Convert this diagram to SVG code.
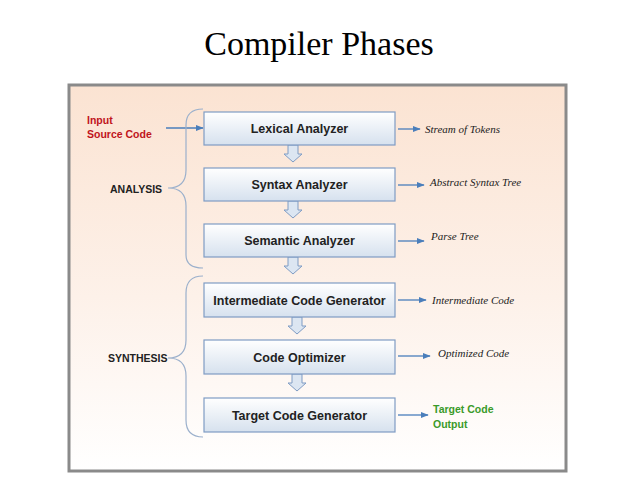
<svg xmlns="http://www.w3.org/2000/svg" width="638" height="478" viewBox="0 0 638 478">
<defs>
<linearGradient id="bg" x1="0" y1="0" x2="0" y2="1"><stop offset="0" stop-color="#fbe3d2"/><stop offset="0.55" stop-color="#fdf1e9"/><stop offset="1" stop-color="#ffffff"/></linearGradient>
<linearGradient id="bx" x1="0" y1="0" x2="0" y2="1"><stop offset="0" stop-color="#ffffff"/><stop offset="1" stop-color="#d6e1ee"/></linearGradient>
<marker id="ah" viewBox="0 0 10 10" refX="9" refY="5" markerWidth="6" markerHeight="6" orient="auto"><path d="M0,1 L10,5 L0,9 Z" fill="#4a7ebb"/></marker>
<path id="blk" d="M-5,0 H5 V9 H9 L0,17 L-9,9 H-5 Z" fill="#dce6f2" stroke="#7f9cc4" stroke-width="1"/>
</defs>
<style>
.box{fill:url(#bx);stroke:#7f9cc4;stroke-width:1.2}
.bt{font-family:"Liberation Sans",Arial,sans-serif;font-weight:bold;font-size:12.5px;fill:#222;text-anchor:middle}
.it{font-family:"Liberation Serif","Times New Roman",serif;font-style:italic;font-size:11px;fill:#222}
.lbl{font-family:"Liberation Sans",Arial,sans-serif;font-weight:bold;font-size:10.5px}
.ar{stroke:#4a7ebb;stroke-width:1.3;fill:none;marker-end:url(#ah)}
.br{stroke:#9bb0cc;stroke-width:1.2;fill:none}
</style>
<rect width="638" height="478" fill="#fff"/>
<text x="319" y="55" font-family="Liberation Serif,'Times New Roman',serif" font-size="34" text-anchor="middle" fill="#000">Compiler Phases</text>
<rect x="69" y="85" width="497" height="386" fill="url(#bg)" stroke="#8a8a8a" stroke-width="3"/>
<g id="connectors">
<use href="#blk" x="293" y="145"/>
<use href="#blk" x="293" y="201"/>
<use href="#blk" x="293" y="257"/>
<use href="#blk" x="297" y="317"/>
<use href="#blk" x="297" y="374"/>
<line class="ar" x1="166" y1="128" x2="203" y2="128"/>
<line class="ar" x1="398" y1="129" x2="420" y2="129"/>
<line class="ar" x1="398" y1="185" x2="424" y2="185"/>
<line class="ar" x1="398" y1="241" x2="424" y2="241"/>
<line class="ar" x1="398" y1="300" x2="426" y2="300"/>
<line class="ar" x1="398" y1="356" x2="430" y2="356"/>
<line class="ar" x1="398" y1="415" x2="428" y2="415"/>
<path class="br" d="M203,109 Q186,109 186,125 V170 Q186,188 168,188 Q186,188 186,206 V255 Q186,268 203,268"/>
<path class="br" d="M203,276 Q186,276 186,293 V340 Q186,358 168,358 Q186,358 186,376 V420 Q186,437 203,437"/>
</g>
<g id="n1"><rect class="box" x="204" y="112" width="191" height="33"/><text class="bt" x="299.5" y="133">Lexical Analyzer</text></g>
<g id="n2"><rect class="box" x="204" y="168" width="191" height="33"/><text class="bt" x="299.5" y="189">Syntax Analyzer</text></g>
<g id="n3"><rect class="box" x="204" y="224" width="191" height="33"/><text class="bt" x="299.5" y="245">Semantic Analyzer</text></g>
<g id="n4"><rect class="box" x="204" y="283" width="191" height="34"/><text class="bt" x="299.5" y="305">Intermediate Code Generator</text></g>
<g id="n5"><rect class="box" x="204" y="340" width="191" height="34"/><text class="bt" x="299.5" y="362">Code Optimizer</text></g>
<g id="n6"><rect class="box" x="204" y="398" width="191" height="34"/><text class="bt" x="299.5" y="420">Target Code Generator</text></g>
<g id="labels">
<text class="lbl" x="87" y="124" fill="#c0141c">Input</text>
<text class="lbl" x="87" y="138" fill="#c0141c">Source Code</text>
<text class="lbl" x="110" y="193" fill="#222">ANALYSIS</text>
<text class="lbl" x="108" y="362" fill="#222">SYNTHESIS</text>
<text class="it" x="425" y="133">Stream of Tokens</text>
<text class="it" x="430" y="186">Abstract Syntax Tree</text>
<text class="it" x="431" y="240">Parse Tree</text>
<text class="it" x="432" y="304">Intermediate Code</text>
<text class="it" x="438" y="357">Optimized Code</text>
<text class="lbl" x="433" y="413" fill="#3a9a2a">Target Code</text>
<text class="lbl" x="433" y="428" fill="#3a9a2a">Output</text>
</g>
</svg>
